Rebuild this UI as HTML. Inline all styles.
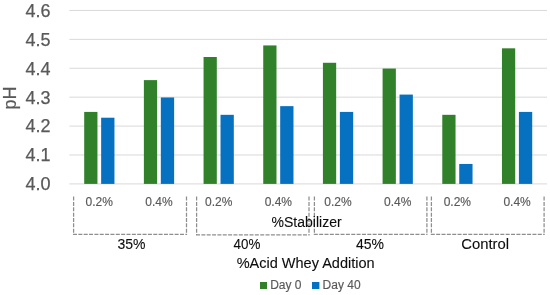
<!DOCTYPE html>
<html><head><meta charset="utf-8"><style>
html,body{margin:0;padding:0;background:#fff;}
svg{display:block;}
text{font-family:"Liberation Sans",sans-serif;}
.yl{font-size:18px;fill:#595959;stroke:#595959;stroke-width:0.25px;}
.yt{font-size:18px;fill:#595959;stroke:#595959;stroke-width:0.2px;}
.cl{font-size:12px;fill:#595959;stroke:#595959;stroke-width:0.15px;}
.gl{font-size:14px;fill:#0d0d0d;stroke:#0d0d0d;stroke-width:0.1px;}
.lg{font-size:12px;fill:#595959;stroke:#595959;stroke-width:0.15px;}
</style></head><body>
<svg width="550" height="295" viewBox="0 0 550 295">
<rect width="550" height="295" fill="#fff"/>
<line x1="69.4" y1="183.90" x2="547" y2="183.90" stroke="#D9D9D9" stroke-width="1"/>
<line x1="69.4" y1="154.99" x2="547" y2="154.99" stroke="#D9D9D9" stroke-width="1"/>
<line x1="69.4" y1="126.08" x2="547" y2="126.08" stroke="#D9D9D9" stroke-width="1"/>
<line x1="69.4" y1="97.17" x2="547" y2="97.17" stroke="#D9D9D9" stroke-width="1"/>
<line x1="69.4" y1="68.26" x2="547" y2="68.26" stroke="#D9D9D9" stroke-width="1"/>
<line x1="69.4" y1="39.35" x2="547" y2="39.35" stroke="#D9D9D9" stroke-width="1"/>
<line x1="69.4" y1="10.44" x2="547" y2="10.44" stroke="#D9D9D9" stroke-width="1"/>
<rect x="84.20" y="111.92" width="13.25" height="71.98" fill="#31802A"/>
<rect x="101.15" y="117.71" width="13.3" height="66.19" fill="#0571C0"/>
<rect x="143.88" y="80.12" width="13.25" height="103.78" fill="#31802A"/>
<rect x="160.83" y="97.47" width="13.3" height="86.43" fill="#0571C0"/>
<rect x="203.56" y="57.00" width="13.25" height="126.90" fill="#31802A"/>
<rect x="220.51" y="114.82" width="13.3" height="69.08" fill="#0571C0"/>
<rect x="263.24" y="45.43" width="13.25" height="138.47" fill="#31802A"/>
<rect x="280.19" y="106.14" width="13.3" height="77.76" fill="#0571C0"/>
<rect x="322.92" y="62.78" width="13.25" height="121.12" fill="#31802A"/>
<rect x="339.87" y="111.92" width="13.3" height="71.98" fill="#0571C0"/>
<rect x="382.60" y="68.56" width="13.25" height="115.34" fill="#31802A"/>
<rect x="399.55" y="94.58" width="13.3" height="89.32" fill="#0571C0"/>
<rect x="442.28" y="114.82" width="13.25" height="69.08" fill="#31802A"/>
<rect x="459.23" y="163.96" width="13.3" height="19.94" fill="#0571C0"/>
<rect x="501.96" y="48.32" width="13.25" height="135.58" fill="#31802A"/>
<rect x="518.91" y="111.92" width="13.3" height="71.98" fill="#0571C0"/>
<text x="50.5" y="190.30" text-anchor="end" class="yl">4.0</text>
<text x="50.5" y="161.39" text-anchor="end" class="yl">4.1</text>
<text x="50.5" y="132.48" text-anchor="end" class="yl">4.2</text>
<text x="50.5" y="103.57" text-anchor="end" class="yl">4.3</text>
<text x="50.5" y="74.66" text-anchor="end" class="yl">4.4</text>
<text x="50.5" y="45.75" text-anchor="end" class="yl">4.5</text>
<text x="50.5" y="16.84" text-anchor="end" class="yl">4.6</text>
<text transform="translate(16.4,97.9) rotate(-90)" text-anchor="middle" class="yt">pH</text>
<text x="99.30" y="205.6" text-anchor="middle" class="cl">0.2%</text>
<text x="158.98" y="205.6" text-anchor="middle" class="cl">0.4%</text>
<text x="218.66" y="205.6" text-anchor="middle" class="cl">0.2%</text>
<text x="278.34" y="205.6" text-anchor="middle" class="cl">0.4%</text>
<text x="338.02" y="205.6" text-anchor="middle" class="cl">0.2%</text>
<text x="397.70" y="205.6" text-anchor="middle" class="cl">0.4%</text>
<text x="457.38" y="205.6" text-anchor="middle" class="cl">0.2%</text>
<text x="517.06" y="205.6" text-anchor="middle" class="cl">0.4%</text>
<path d="M73.6 196.6 V235.0 M73.0 234.4 H187.1 M186.5 196.6 V235.0" fill="none" stroke="#8E8E8E" stroke-width="1.25" stroke-dasharray="4 1.35"/>
<path d="M196.6 196.6 V235.5 M196.0 234.9 H309.6 M309.0 196.6 V235.5" fill="none" stroke="#8E8E8E" stroke-width="1.25" stroke-dasharray="4 1.35"/>
<path d="M314.4 196.6 V235.0 M313.79999999999995 234.4 H427.5 M426.9 196.6 V235.0" fill="none" stroke="#8E8E8E" stroke-width="1.25" stroke-dasharray="4 1.35"/>
<path d="M431.4 196.6 V235.0 M430.79999999999995 234.4 H544.7 M544.1 196.6 V235.0" fill="none" stroke="#8E8E8E" stroke-width="1.25" stroke-dasharray="4 1.35"/>
<text x="306.6" y="227.1" text-anchor="middle" class="gl">%Stabilizer</text>
<text x="131.4" y="249" text-anchor="middle" class="gl">35%</text>
<text x="246.9" y="249" text-anchor="middle" class="gl" textLength="26.8" lengthAdjust="spacingAndGlyphs">40%</text>
<text x="369.9" y="249" text-anchor="middle" class="gl">45%</text>
<text x="485.2" y="249" text-anchor="middle" class="gl" textLength="47.8" lengthAdjust="spacingAndGlyphs">Control</text>
<text x="305.65" y="268.2" text-anchor="middle" class="gl" textLength="138" lengthAdjust="spacingAndGlyphs">%Acid Whey Addition</text>
<rect x="260" y="282" width="7" height="7" fill="#31802A"/>
<text x="270.2" y="289" class="lg">Day 0</text>
<rect x="312" y="282" width="7.4" height="7" fill="#0571C0"/>
<text x="322.6" y="289" class="lg">Day 40</text>
</svg>
</body></html>
